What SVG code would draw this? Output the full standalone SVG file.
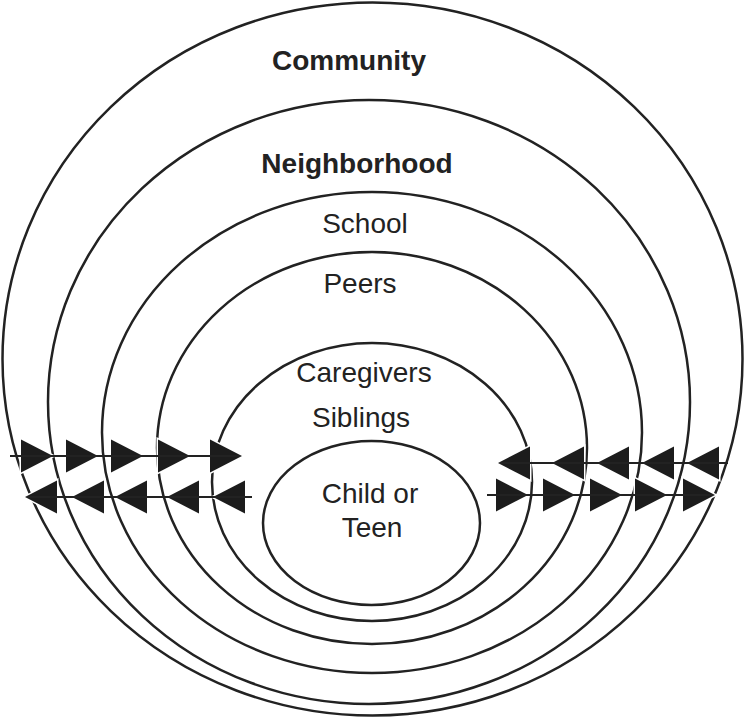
<svg xmlns="http://www.w3.org/2000/svg" width="747" height="727" viewBox="0 0 747 727">
<style>
.ring{fill:none;stroke:#222;stroke-width:2.5}
.lbl{font-family:"Liberation Sans",Arial,sans-serif;font-size:28px;fill:#222;text-anchor:middle}
.bold{font-weight:bold}
.ln{stroke:#222;stroke-width:2.2;fill:none}
.ah{fill:#1c1c1c;stroke:#fff;stroke-width:3;paint-order:stroke}
</style>
<defs>
<polygon id="ar" points="0,0 -32,-16.5 -32,16.5"/>
<polygon id="al" points="0,0 32,-16.5 32,16.5"/>
</defs>
<rect width="747" height="727" fill="#fff"/>
<g id="community"><ellipse class="ring" cx="372.5" cy="359" rx="370" ry="356.5"/><text class="lbl bold" x="349" y="70">Community</text></g>
<g id="neighborhood"><ellipse class="ring" cx="369" cy="402" rx="321" ry="302"/><text class="lbl bold" x="357" y="173">Neighborhood</text></g>
<g id="school"><ellipse class="ring" cx="372" cy="432.5" rx="270" ry="240.5"/><text class="lbl" x="365" y="233">School</text></g>
<g id="peers"><ellipse class="ring" cx="372" cy="448" rx="215" ry="196"/><text class="lbl" x="360" y="293">Peers</text></g>
<g id="caregivers"><ellipse class="ring" cx="372" cy="482" rx="160" ry="139"/><text class="lbl" x="364" y="382">Caregivers</text><text class="lbl" x="361" y="427">Siblings</text></g>
<g id="child"><ellipse class="ring" cx="371.5" cy="523" rx="108.5" ry="82"/><text class="lbl" x="370" y="503" font-size="27">Child or</text><text class="lbl" x="372" y="537" font-size="27">Teen</text></g>
<g id="connectors">
<use href="#ar" class="ah" x="53" y="456"/><use href="#ar" class="ah" x="98" y="456"/><use href="#ar" class="ah" x="143" y="456"/><use href="#ar" class="ah" x="190" y="456"/><use href="#ar" class="ah" x="242" y="456"/>
<use href="#al" class="ah" x="25" y="497"/><use href="#al" class="ah" x="72" y="497"/><use href="#al" class="ah" x="115" y="497"/><use href="#al" class="ah" x="167" y="497"/><use href="#al" class="ah" x="213" y="497"/>
<use href="#al" class="ah" x="498" y="463"/><use href="#al" class="ah" x="552" y="463"/><use href="#al" class="ah" x="597" y="463"/><use href="#al" class="ah" x="642" y="463"/><use href="#al" class="ah" x="687" y="463"/>
<use href="#ar" class="ah" x="528" y="495"/><use href="#ar" class="ah" x="575" y="495"/><use href="#ar" class="ah" x="622" y="495"/><use href="#ar" class="ah" x="667" y="495"/><use href="#ar" class="ah" x="715" y="495"/>
<line class="ln" x1="10" y1="456" x2="240" y2="456"/>
<line class="ln" x1="27" y1="497" x2="252" y2="497"/>
<line class="ln" x1="500" y1="463" x2="728" y2="463"/>
<line class="ln" x1="487" y1="495" x2="713" y2="495"/>
</g>
</svg>
